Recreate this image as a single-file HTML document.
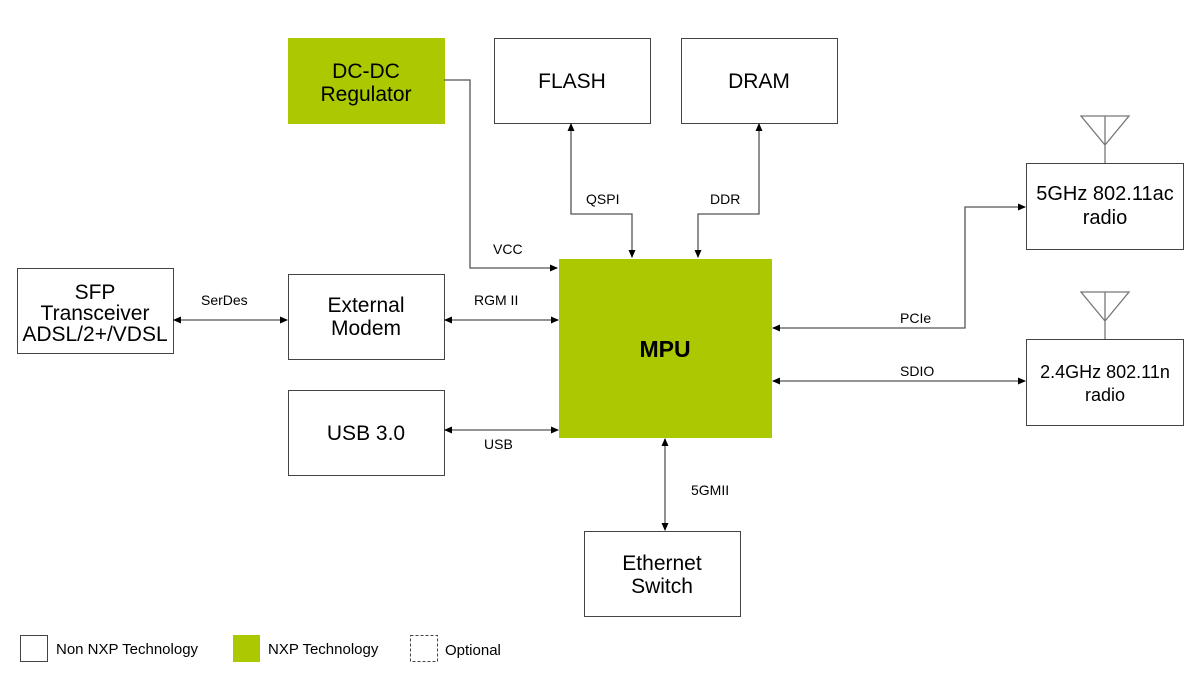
<!DOCTYPE html>
<html><head><meta charset="utf-8"><style>
body{margin:0;background:#fff}
text{font-family:"Liberation Sans",Arial,sans-serif;fill:#000}
</style></head><body>
<svg width="1200" height="675" viewBox="0 0 1200 675" xmlns="http://www.w3.org/2000/svg">
<defs><marker id="a" markerWidth="8" markerHeight="8" refX="7" refY="4" orient="auto-start-reverse" markerUnits="userSpaceOnUse"><path d="M0,0.5 L8,4 L0,7.5z" fill="#000"/></marker></defs>
<g fill="#fff" stroke="#444" stroke-width="1">
<rect x="494.5" y="38.5" width="156" height="85"/>
<rect x="681.5" y="38.5" width="156" height="85"/>
<rect x="17.5" y="268.5" width="156" height="85"/>
<rect x="288.5" y="274.5" width="156" height="85"/>
<rect x="288.5" y="390.5" width="156" height="85"/>
<rect x="584.5" y="531.5" width="156" height="85"/>
<rect x="1026.5" y="163.5" width="157" height="86"/>
<rect x="1026.5" y="339.5" width="157" height="86"/>
<rect x="20.5" y="635.5" width="27" height="26"/>
<rect x="410.5" y="635.5" width="27" height="26" stroke-dasharray="3,2"/>
</g>
<rect x="288" y="38" width="157" height="86" fill="#acc800"/>
<rect x="559" y="259" width="213" height="179" fill="#acc800"/>
<rect x="233" y="635" width="27" height="27" fill="#acc800"/>
<g fill="none" stroke="#777" stroke-width="1.3">
<path d="M1081,116 L1129,116 L1105,145 Z M1105,116 V163"/>
<path d="M1081,292 L1129,292 L1105,321 Z M1105,292 V339"/>
</g>
<g fill="none" stroke="#555" stroke-width="1.3">
<path d="M444,80 H470 V268 H557" marker-end="url(#a)"/>
<path d="M571,124 V214 H632 V257" marker-start="url(#a)" marker-end="url(#a)"/>
<path d="M759,124 V214 H698 V257" marker-start="url(#a)" marker-end="url(#a)"/>
<path d="M174,320 H287" marker-start="url(#a)" marker-end="url(#a)"/>
<path d="M445,320 H558" marker-start="url(#a)" marker-end="url(#a)"/>
<path d="M445,430 H558" marker-start="url(#a)" marker-end="url(#a)"/>
<path d="M665,439 V530" marker-start="url(#a)" marker-end="url(#a)"/>
<path d="M773,328 H965 V207 H1025" marker-start="url(#a)" marker-end="url(#a)"/>
<path d="M773,381 H1025" marker-start="url(#a)" marker-end="url(#a)"/>
</g>
<g font-size="21" text-anchor="middle">
<text x="366" y="78">DC-DC</text><text x="366" y="101">Regulator</text>
<text x="572" y="88">FLASH</text>
<text x="759" y="88">DRAM</text>
<text x="95" y="299">SFP</text><text x="95" y="320">Transceiver</text><text x="95" y="341">ADSL/2+/VDSL</text>
<text x="366" y="312">External</text><text x="366" y="335">Modem</text>
<text x="366" y="440">USB 3.0</text>
<text x="662" y="570">Ethernet</text><text x="662" y="593">Switch</text>
</g>
<text x="665" y="357" font-size="23" font-weight="bold" text-anchor="middle">MPU</text>
<g font-size="20" text-anchor="middle">
<text x="1105" y="200">5GHz 802.11ac</text><text x="1105" y="224">radio</text>
</g>
<g font-size="18" text-anchor="middle">
<text x="1105" y="378">2.4GHz  802.11n</text><text x="1105" y="401">radio</text>
</g>
<g font-size="14">
<text x="586" y="204">QSPI</text>
<text x="710" y="204">DDR</text>
<text x="493" y="254">VCC</text>
<text x="201" y="305">SerDes</text>
<text x="474" y="305">RGM II</text>
<text x="484" y="449">USB</text>
<text x="691" y="495">5GMII</text>
<text x="900" y="323">PCIe</text>
<text x="900" y="376">SDIO</text>
<text x="56" y="654" font-size="15">Non NXP Technology</text>
<text x="268" y="654" font-size="15">NXP Technology</text>
<text x="445" y="655" font-size="15">Optional</text>
</g>
</svg>
</body></html>
